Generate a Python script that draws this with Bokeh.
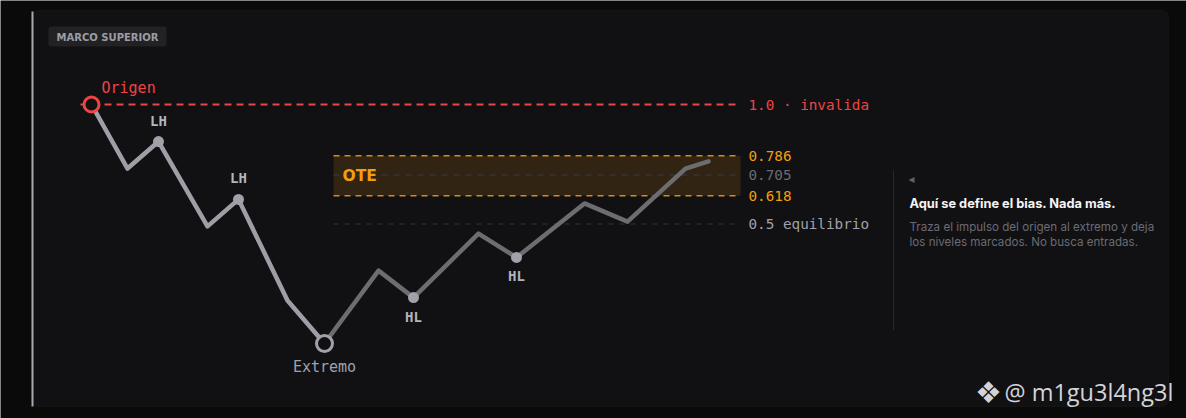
from bokeh.plotting import figure
from bokeh.models import Range1d, BoxAnnotation, Label, ColumnDataSource
from bokeh.embed import file_html
from bokeh.resources import INLINE

# ---------------- data ----------------
# time positions (bars, arbitrary units) and price in fib units (0 = extremo, 1 = origen)
t_vals = [0.0, 3.6, 6.7, 11.6, 14.7, 19.6, 23.3, 28.7, 32.2, 38.7, 42.5, 49.3, 53.6, 59.4, 61.7]
v_vals = [1.0, 0.732, 0.845, 0.490, 0.603, 0.180, 0.0, 0.305, 0.192, 0.460, 0.360, 0.586, 0.510, 0.732, 0.762]
extremo_idx = 6
pivot_idx = [2, 4, 8, 10]
pivot_names = ["LH", "LH", "HL", "HL"]
pivot_above = [True, True, False, False]

fib_levels = [1.0, 0.786, 0.705, 0.618, 0.5]
fib_texts = ["1.0 · invalida", "0.786", "0.705", "0.618", "0.5 equilibrio"]
fib_colors = ["#ef4444", "#f59e0b", "#6b6b73", "#f59e0b", "#a1a1aa"]
ote_top, ote_bottom = 0.786, 0.618

badge_text = "MARCO SUPERIOR"
panel_title = "Aquí se define el bias. Nada más."
panel_lines = ["Traza el impulso del origen al extremo y deja",
               "los niveles marcados. No busca entradas."]
watermark = "@ m1gu3l4ng3l"

# ---------------- layout helpers (picture pixel -> data) ----------------
W, H = 1186, 418
def X(px):
    return (px - 91) / 10.0
def Y(py):
    return (343 - py) / 239.0
def DX(d):
    return d / 10.0
def DY(d):
    return d / 239.0

MONO = "DejaVu Sans Mono"
SANS = "Inter"

p = figure(width=W, height=H, output_backend="svg", toolbar_location=None,
           x_range=Range1d(X(0), X(W)), y_range=Range1d(Y(H), Y(0)),
           x_axis_location=None, y_axis_location=None, min_border=0)
p.grid.visible = False
p.outline_line_color = None
p.background_fill_color = "#0a0a0b"
p.border_fill_color = "#0a0a0b"

# card
p.add_layout(BoxAnnotation(left=X(31), right=X(1168), top=Y(10), bottom=Y(406),
                           fill_color="#111113", fill_alpha=1, line_color="#232326",
                           line_width=1, border_radius=6, level="underlay"))
p.add_layout(BoxAnnotation(left=X(31), right=X(33), top=Y(11), bottom=Y(406),
                           fill_color="#a8a8b0", fill_alpha=1, line_color=None, level="underlay"))
# badge
p.add_layout(BoxAnnotation(left=X(48), right=X(166), top=Y(26), bottom=Y(46),
                           fill_color="#222225", fill_alpha=1, line_color=None,
                           border_radius=3, level="underlay"))
p.add_layout(Label(x=X(107), y=Y(36.5), text=badge_text, text_align="center", text_baseline="middle",
                   text_font="DejaVu Sans", text_font_style="bold", text_font_size="10px",
                   text_color="#9c9ca6"))
# OTE zone
p.add_layout(BoxAnnotation(left=X(333), right=X(740), top=ote_top, bottom=ote_bottom,
                           fill_color="#f59e0b", fill_alpha=0.14, line_color=None, level="underlay"))

# fib level lines
x0s = [X(80), X(333), X(333), X(333), X(333)]
x1s = [X(740)] * 5
widths = [2, 1.5, 1.5, 1.5, 1.2]
dashes = ["7 5", "6 5", "6 6", "6 5", "5 6"]
lcols = ["#ef4444", "#d98a1a", "#34343a", "#d98a1a", "#34343a"]
for lv, a, b, w, d, c in zip(fib_levels, x0s, x1s, widths, dashes, lcols):
    p.segment(x0=[a], x1=[b], y0=[lv], y1=[lv], line_color=c, line_width=w, line_dash=d)
for lv, txt, col in zip(fib_levels, fib_texts, fib_colors):
    p.add_layout(Label(x=X(748), y=lv, text=txt, text_baseline="middle", text_font=MONO,
                       text_font_size="14.3px", text_color=col))
p.add_layout(Label(x=X(342), y=(ote_top + ote_bottom) / 2, text="OTE", text_baseline="middle",
                   text_font="DejaVu Sans", text_font_style="bold", text_font_size="15.5px",
                   text_color="#f59e0b"))

# price path
p.line(t_vals[:extremo_idx + 1], v_vals[:extremo_idx + 1], line_color="#9e9ea6", line_width=4.5,
       line_join="round", line_cap="round")
p.line(t_vals[extremo_idx:], v_vals[extremo_idx:], line_color="#6c6c71", line_width=4.5,
       line_join="round", line_cap="round")

# pivots
src = ColumnDataSource(dict(x=[t_vals[i] for i in pivot_idx], y=[v_vals[i] for i in pivot_idx]))
p.scatter("x", "y", source=src, size=11, fill_color="#a1a1aa", line_color=None)
for i, name, above in zip(pivot_idx, pivot_names, pivot_above):
    yy = v_vals[i] + (DY(21) if above else -DY(19))
    p.add_layout(Label(x=t_vals[i], y=yy, text=name, text_align="center", text_baseline="middle",
                       text_font=MONO, text_font_style="bold", text_font_size="14px",
                       text_color="#b4b4bc"))

p.scatter([t_vals[0]], [v_vals[0]], size=15, fill_color="#111113", line_color="#ef4444", line_width=3)
p.scatter([t_vals[extremo_idx]], [v_vals[extremo_idx]], size=16, fill_color="#111113",
          line_color="#a1a1aa", line_width=3)
p.add_layout(Label(x=t_vals[0] + DX(10), y=v_vals[0] + DY(17), text="Origen", text_baseline="middle",
                   text_font=MONO, text_font_size="15px", text_color="#ef4444"))
p.add_layout(Label(x=t_vals[extremo_idx], y=v_vals[extremo_idx] - DY(23), text="Extremo",
                   text_align="center", text_baseline="middle",
                   text_font=MONO, text_font_size="15px", text_color="#a1a1aa"))

# right panel
p.segment(x0=[X(893)], x1=[X(893)], y0=[Y(170)], y1=[Y(330)], line_color="#27272a", line_width=1)
p.add_layout(Label(x=X(908), y=Y(178), text="◂", text_baseline="middle", text_font="DejaVu Sans",
                   text_font_size="12px", text_color="#5e5e70"))
p.add_layout(Label(x=X(909), y=Y(203), text=panel_title, text_baseline="middle", text_font=SANS,
                   text_font_style="bold", text_font_size="12.8px", text_color="#f4f4f5"))
for k, ln in enumerate(panel_lines):
    p.add_layout(Label(x=X(909), y=Y(226 + 15 * k), text=ln, text_baseline="middle", text_font=SANS,
                       text_font_size="11.6px", text_color="#6b6b75"))

# watermark
p.add_layout(Label(x=X(988), y=Y(392), text="❖", text_align="center", text_baseline="middle",
                   text_font="DejaVu Sans", text_font_size="30px", text_color="#d4d4d8"))
p.add_layout(Label(x=X(1004), y=Y(391), text=watermark, text_baseline="middle", text_font="Open Sans",
                   text_font_size="23.5px", text_color="#d4d4d8"))

open("out.html", "w").write(file_html(p, INLINE))
